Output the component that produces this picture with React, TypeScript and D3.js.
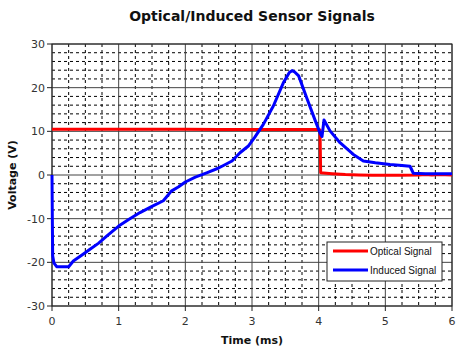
import * as d3 from 'd3';

// Optical sensor trace (time ms, volts)
const opticalTime = [0, 0.5, 1, 1.5, 2, 2.5, 3, 3.5, 4.0, 4.02, 4.03, 4.2, 4.4, 4.6, 4.8, 5.2, 5.5, 5.6, 5.7, 5.8, 6.0];
const opticalVolt = [10.5, 10.5, 10.5, 10.5, 10.5, 10.4, 10.4, 10.4, 10.4, 10.3, 0.5, 0.3, 0.1, 0.0, -0.05, -0.05, 0.0, 0.1, 0.0, 0.1, 0.0];

// Induced sensor trace (time ms, volts)
const inducedTime = [
  0, 0.005, 0.01, 0.03, 0.07, 0.15, 0.25, 0.32, 0.45, 0.57, 0.7, 0.82, 1.0,
  1.15, 1.32, 1.5, 1.67, 1.72, 1.79, 1.9, 2.0, 2.15, 2.32, 2.5, 2.7, 2.82,
  2.95, 3.04, 3.17, 3.32, 3.47, 3.56, 3.6, 3.64, 3.7, 3.82, 3.95, 4.02, 4.05,
  4.08, 4.17, 4.32, 4.52, 4.67, 4.85, 5.07, 5.25, 5.37, 5.42, 5.6, 5.8, 6.0,
];
const inducedVolt = [
  0, -10, -18.5, -20.2, -21, -21, -21, -19.7, -18.3, -17, -15.6, -14, -11.7,
  -10.2, -8.6, -7.2, -5.9, -5.0, -3.7, -2.7, -1.6, -0.5, 0.5, 1.6, 3.2, 5.1,
  6.7, 8.6, 11.6, 15.8, 21.1, 23.5, 23.9, 23.6, 22.7, 17.7, 12.4, 9.6, 8.8,
  12.6, 10.1, 7.4, 4.7, 3.2, 2.8, 2.4, 2.2, 2.0, 0.4, 0.3, 0.3, 0.3,
];

const xTicks = [0, 1, 2, 3, 4, 5, 6];
const yTicks = [-30, -20, -10, 0, 10, 20, 30];
const seriesNames = ['Optical Signal', 'Induced Signal'];
const seriesColors = ['#ff0000', '#0000ff'];

const W = 474;
const H = 351;
const left = 52;
const right = 452;
const top = 44;
const bottom = 306;

export default function App() {
  const x = d3.scaleLinear().domain([0, 6]).range([left, right]);
  const y = d3.scaleLinear().domain([-30, 30]).range([bottom, top]);

  const minorX = d3.range(0, 6.001, 0.25).filter(v => Math.abs(v - Math.round(v)) > 1e-6);
  const minorY = d3.range(-30, 30.001, 2).filter(v => Math.abs(v % 10) > 1e-6);

  const line = d3.line<[number, number]>().x(d => x(d[0])).y(d => y(d[1]));
  const optical = line(opticalTime.map((t, i) => [t, opticalVolt[i]] as [number, number]))!;
  const induced = line(inducedTime.map((t, i) => [t, inducedVolt[i]] as [number, number]))!;

  const font = 'DejaVu Sans, Verdana, sans-serif';

  return (
    <svg width={W} height={H} style={{ position: 'absolute', left: 0, top: 0 }} fontFamily={font}>
      <rect width={W} height={H} fill="#fff" />
      <text x={252} y={21} textAnchor="middle" fontSize={14} fontWeight="bold" fill="#111">
        Optical/Induced Sensor Signals
      </text>

      {/* minor dashed grid */}
      {minorX.map(v => (
        <line key={'mx' + v} x1={x(v)} x2={x(v)} y1={top} y2={bottom} stroke="#000" strokeDasharray="3,3" />
      ))}
      {minorY.map(v => (
        <line key={'my' + v} x1={left} x2={right} y1={y(v)} y2={y(v)} stroke="#000" strokeDasharray="3,3" />
      ))}
      {/* major grid */}
      {xTicks.map(v => (
        <line key={'gx' + v} x1={x(v)} x2={x(v)} y1={top} y2={bottom} stroke="#444" />
      ))}
      {yTicks.map(v => (
        <line key={'gy' + v} x1={left} x2={right} y1={y(v)} y2={y(v)} stroke="#444" />
      ))}
      <rect x={left} y={top} width={right - left} height={bottom - top} fill="none" stroke="#222" />

      {/* ticks + labels */}
      {yTicks.map(v => (
        <g key={'yt' + v}>
          <line x1={left - 5} x2={left} y1={y(v)} y2={y(v)} stroke="#222" />
          <text x={left - 7} y={y(v) + 4} textAnchor="end" fontSize={11} fill="#333">{v}</text>
        </g>
      ))}
      {xTicks.map(v => (
        <g key={'xt' + v}>
          <line x1={x(v)} x2={x(v)} y1={bottom} y2={bottom + 5} stroke="#222" />
          <text x={x(v)} y={bottom + 19} textAnchor="middle" fontSize={11} fill="#333">{v}</text>
        </g>
      ))}

      <text x={252} y={344} textAnchor="middle" fontSize={11} fontWeight="bold" fill="#111">Time (ms)</text>
      <text transform={`translate(16,${(top + bottom) / 2}) rotate(-90)`} textAnchor="middle" fontSize={11} fontWeight="bold" fill="#111">
        Voltage (V)
      </text>

      {/* series */}
      <path d={optical} fill="none" stroke={seriesColors[0]} strokeWidth={3} strokeLinejoin="round" />
      <path d={induced} fill="none" stroke={seriesColors[1]} strokeWidth={3} strokeLinejoin="round" />

      {/* legend */}
      <g fontFamily="Liberation Sans, Arial, sans-serif">
        <rect x={327} y={242} width={115} height={39} fill="#fff" stroke="#222" />
        {seriesNames.map((name, i) => (
          <g key={name}>
            <line x1={333} x2={368} y1={251 + i * 19} y2={251 + i * 19} stroke={seriesColors[i]} strokeWidth={3} />
            <text x={370} y={255 + i * 19} fontSize={10} fill="#111">{name}</text>
          </g>
        ))}
      </g>
    </svg>
  );
}
